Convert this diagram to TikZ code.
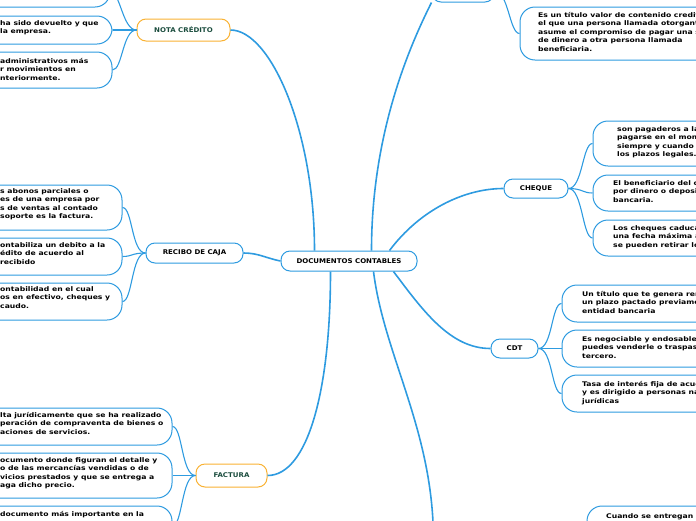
\documentclass[tikz,border=0pt]{standalone}
\usepackage{fontspec}
\setmainfont{DejaVu Sans}
\newfontfamily\lf[FakeStretch=1.2]{DejaVu Sans}
\newfontfamily\mf[FakeStretch=1.08]{DejaVu Sans}
\definecolor{lb}{HTML}{2E9BE0}
\definecolor{og}{HTML}{F9B233}
\definecolor{dg}{HTML}{1B4D3E}
\begin{document}
\begin{tikzpicture}[x=1pt,y=-1pt,
  mainbox/.style={draw=lb,line width=1pt,rounded corners=9pt,fill=white,font=\mf\bfseries\fontsize{6.5}{8}\selectfont,inner sep=0pt},
  orbox/.style={mainbox,draw=og,text=dg},
  leafbox/.style={draw=lb,line width=1pt,rounded corners=15pt,fill=white,inner sep=0pt},
  lt/.style={font=\lf\bfseries\fontsize{6.4}{8.5}\selectfont,align=left,inner sep=0pt,anchor=north west},
  con/.style={draw=lb,line width=1.1pt},
  mcon/.style={draw=lb,line width=1.6pt}]
\useasboundingbox (0,0) rectangle (696,520);
\clip (0,0) rectangle (696,520);
% central
\node[mainbox,minimum width=136pt,minimum height=20pt] (c) at (349,261) {DOCUMENTOS CONTABLES};
% NOTA CREDITO
\node[orbox,minimum width=93pt,minimum height=22pt] (nc) at (183.5,30) {NOTA CRÉDITO};
\node[leafbox,minimum width=150pt,minimum height=30pt] (n1) at (35,-8) {};
\node[leafbox,minimum width=150pt,minimum height=28pt] (n2) at (37,30) {};
\node[leafbox,minimum width=150pt,minimum height=36pt] (n3) at (37,70) {};
\node[lt] (n1t) at (0,-6) {tos o en un cliente.};
\node[lt] (n2t) at (0,20) {ha sido devuelto y que\\ la empresa.};
\node[lt] (n3t) at (0,58) {administrativos más\\r movimientos en\\nteriormente.};
% RECIBO
\node[mainbox,minimum width=97pt,minimum height=20pt] (rc) at (194.5,253) {RECIBO DE CAJA};
\node[leafbox,minimum width=150pt,minimum height=45pt] (r1) at (47,207.5) {};
\node[leafbox,minimum width=150pt,minimum height=37pt] (r2) at (47,256.5) {};
\node[leafbox,minimum width=150pt,minimum height=37pt] (r3) at (47,301.5) {};
\node[lt] (r1t) at (0,188) {s abonos parciales o\\es de una empresa por\\s de ventas al contado\\ soporte es la factura.};
\node[lt] (r2t) at (0,242) {ontabiliza un debito a la\\édito de acuerdo al\\ recibido};
\node[lt] (r3t) at (0,286) {ontabilidad en el cual\\os en efectivo, cheques y\\caudo.};
% FACTURA
\node[orbox,minimum width=71pt,minimum height=23pt] (fa) at (231.5,475.5) {FACTURA};
\node[leafbox,minimum width=200pt,minimum height=37pt] (f1) at (72,426.5) {};
\node[leafbox,minimum width=200pt,minimum height=45pt] (f2) at (72,475.5) {};
\node[leafbox,minimum width=200pt,minimum height=40pt] (f3) at (72,526) {};
\node[lt] (f1t) at (0,412) {lta jurídicamente que se ha realizado\\peración de compraventa de bienes o\\aciones de servicios.};
\node[lt] (f2t) at (0,457) {ocumento donde figuran el detalle y\\o de las mercancías vendidas o de\\vicios prestados y que se entrega a\\aga dicho precio.};
\node[lt] (f3t) at (0,511) {documento más importante en la};
% top node
\node[mainbox,minimum width=62pt,minimum height=22pt] (tp) at (463,-9) {};
\node[leafbox,minimum width=200pt,minimum height=53pt] (t1) at (620,33.5) {};
\node[lt] (t1t) at (538,12) {Es un título valor de contenido crediticio\\el que una persona llamada otorgante\\asume el compromiso de pagar una suma\\de dinero a otra persona llamada\\beneficiaria.};
% CHEQUE
\node[mainbox,minimum width=64pt,minimum height=19pt] (ch) at (536,188.5) {CHEQUE};
\node[leafbox,minimum width=150pt,minimum height=45pt] (c1) at (668,143.5) {};
\node[leafbox,minimum width=150pt,minimum height=36pt] (c2) at (668,193) {};
\node[leafbox,minimum width=150pt,minimum height=36pt] (c3) at (668,238) {};
\node[lt] (c1t) at (617,126) {son pagaderos a la vista\\pagarse en el momento\\siempre y cuando estén\\los plazos legales.};
\node[lt] (c2t) at (613,180) {El beneficiario del cheque\\por dinero o depositarlo\\bancaria.};
\node[lt] (c3t) at (613,225) {Los cheques caducan,\\una fecha máxima a partir\\se pueden retirar los};
% CDT
\node[mainbox,minimum width=47pt,minimum height=19pt] (cd) at (514.5,348.5) {CDT};
\node[leafbox,minimum width=160pt,minimum height=37pt] (d1) at (642,303.5) {};
\node[leafbox,minimum width=160pt,minimum height=37pt] (d2) at (642,348.5) {};
\node[leafbox,minimum width=160pt,minimum height=37pt] (d3) at (642,393.5) {};
\node[lt] (d1t) at (582,291) {Un título que te genera renta\\un plazo pactado previamente\\entidad bancaria};
\node[lt] (d2t) at (582,336) {Es negociable y endosable con\\puedes venderle o traspasarlo\\tercero.};
\node[lt] (d3t) at (582,381) {Tasa de interés fija de acuerdo\\y es dirigido a personas natu\\jurídicas};
% bottom right
\node[leafbox,minimum width=200pt,minimum height=40pt] (b1) at (687,526) {};
\node[lt] (b1t) at (606,513) {Cuando se entregan me};
\coordinate (bend) at (433,522);
% connectors
\path[mcon] (c.north west) ++(34,0) .. controls +(0,-120) and +(40,0) .. (nc.east);
\path[mcon] (c.north east) ++(-46,0) .. controls +(0,-120) and +(-20,40) .. (tp.south west);
\path[mcon] (c.north east) ++(-28,0) .. controls +(30,-40) and +(-40,0) .. (ch.west);
\path[mcon] (c.west) .. controls +(-15,-3) and +(15,0) .. (rc.east);
\path[mcon] (c.south west) ++(50,0) .. controls +(0,120) and +(40,0) .. (fa.east);
\path[mcon] (c.south east) ++(-44,0) .. controls +(10,80) and +(-5,-100) .. (bend);
\path[mcon] (c.south east) ++(-24,0) .. controls +(30,40) and +(-40,0) .. (cd.west);
\foreach \p/\k in {nc/n1,nc/n2,nc/n3,rc/r1,rc/r2,rc/r3,fa/f1,fa/f2,fa/f3}
  \path[con] (\p.west) .. controls +(-14,0) and +(10,0) .. (\k.east);
\foreach \p/\k in {tp/t1,ch/c1,ch/c2,ch/c3,cd/d1,cd/d2,cd/d3}
  \path[con] (\p.east) .. controls +(14,0) and +(-10,0) .. (\k.west);
\end{tikzpicture}
\end{document}
